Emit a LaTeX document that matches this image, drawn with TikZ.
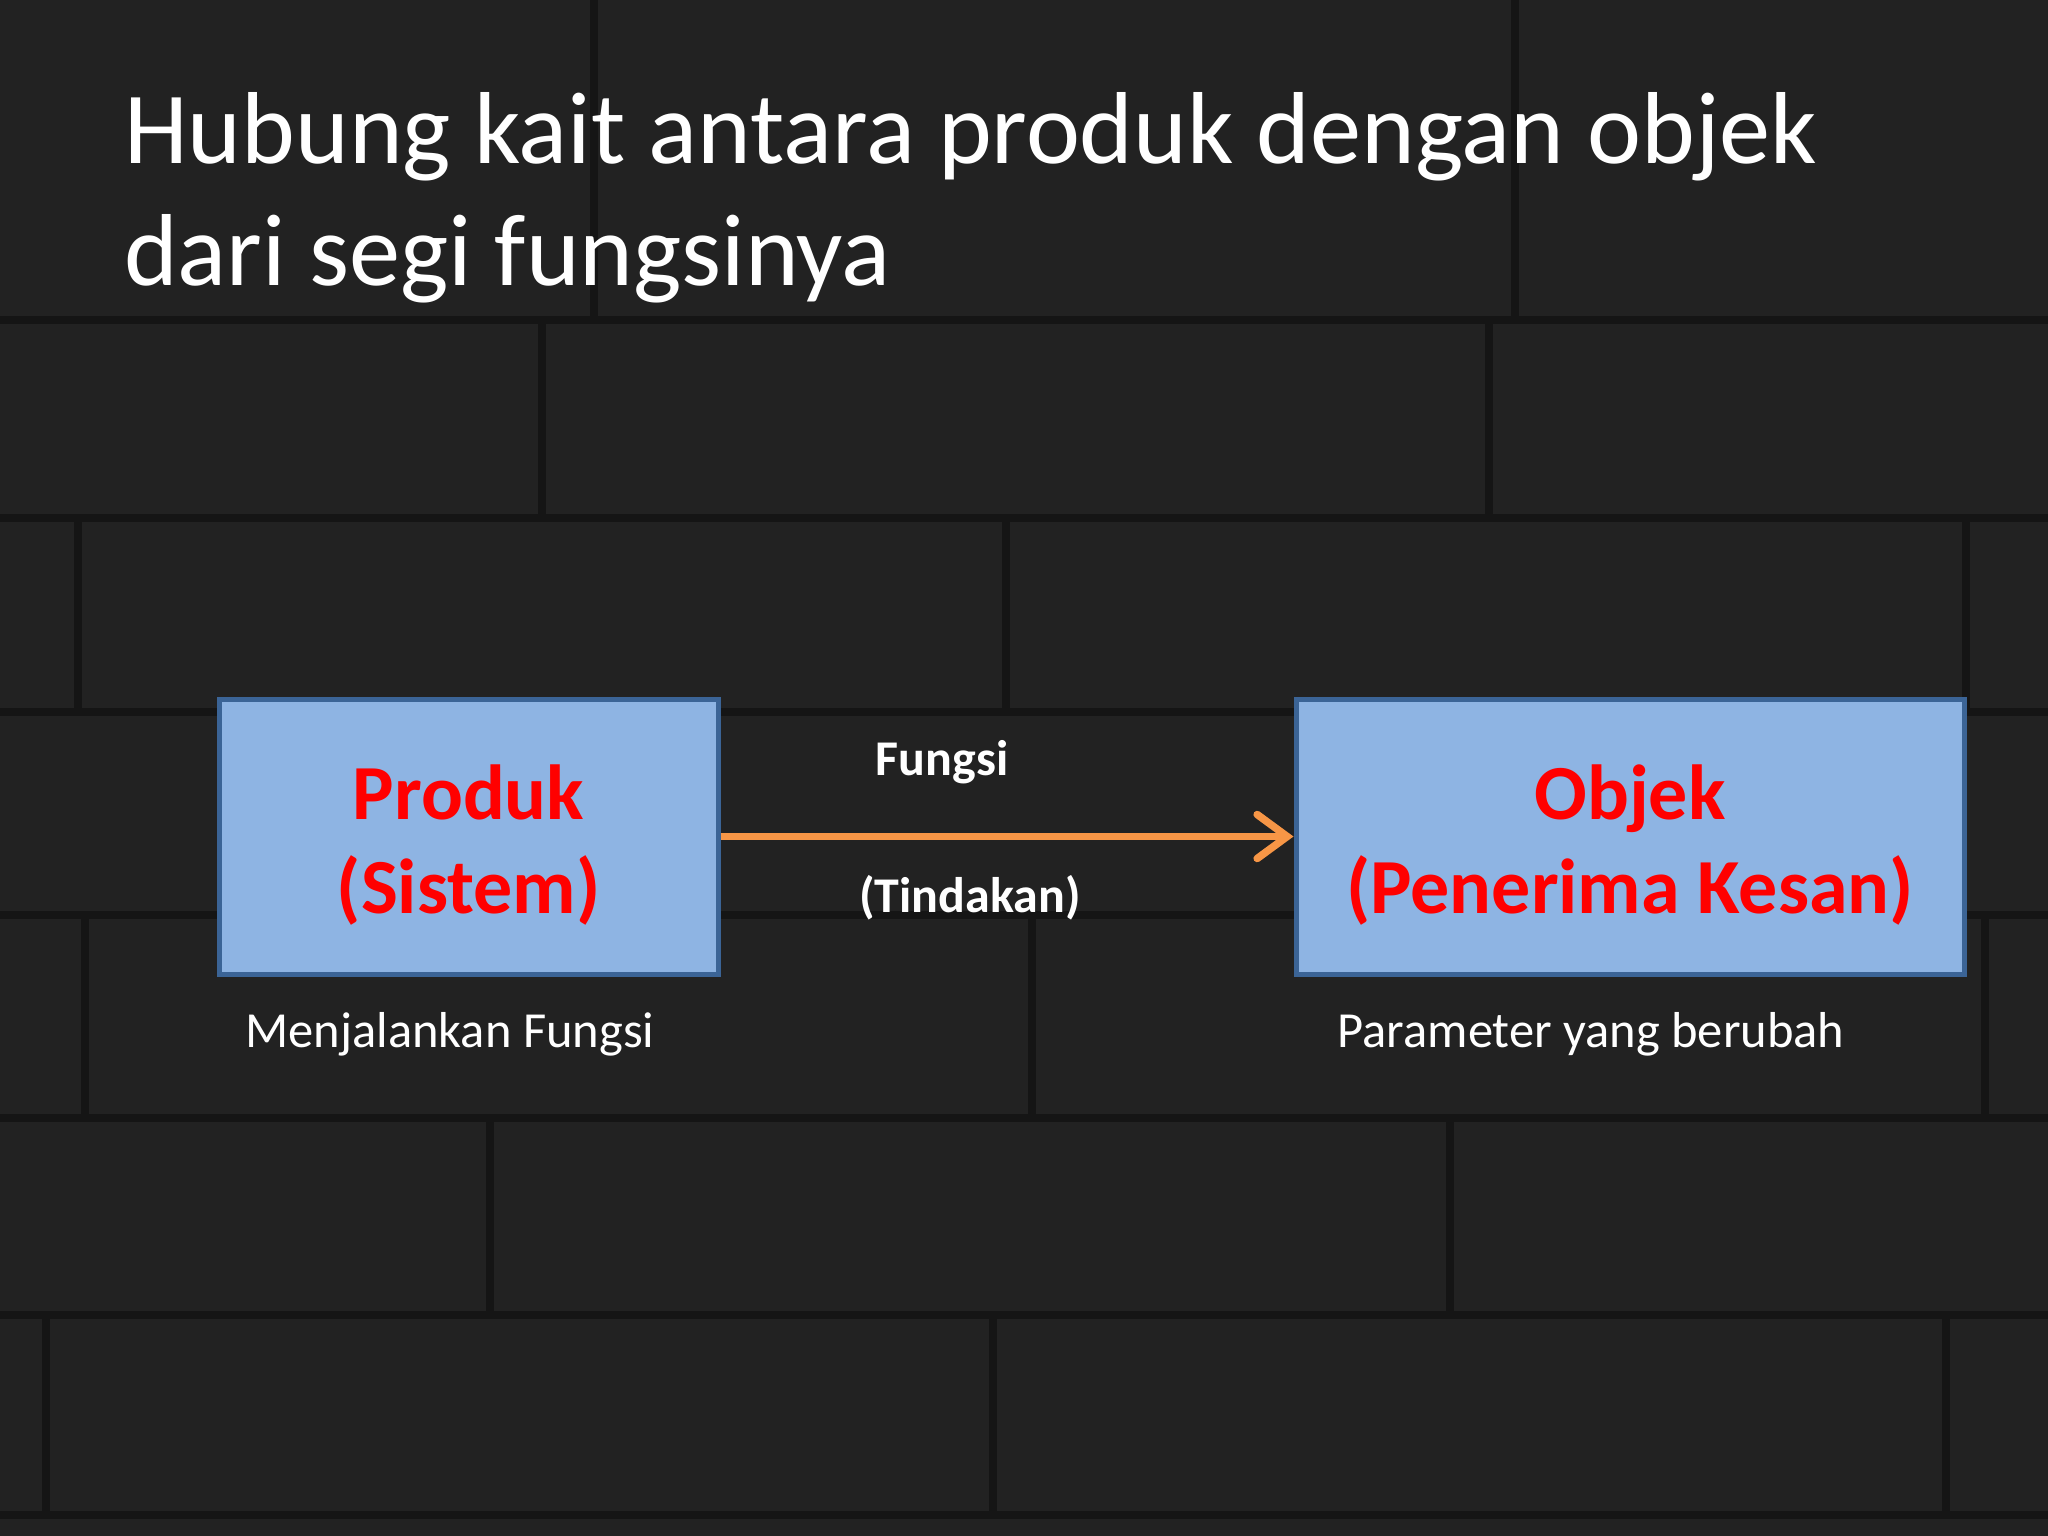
\documentclass[tikz,border=0pt]{standalone}
\usepackage{fontspec}
\setmainfont{Carlito}
\usetikzlibrary{arrows.meta}
\definecolor{bg}{HTML}{222222}
\definecolor{mortar}{HTML}{151515}
\definecolor{boxfill}{HTML}{8EB4E3}
\definecolor{boxline}{HTML}{3B6496}
\definecolor{arrowc}{HTML}{F79646}
\definecolor{redtxt}{HTML}{FF0000}
\tikzset{
  mortarline/.style={mortar, line width=8pt},
  mainbox/.style={draw=boxline, fill=boxfill, line width=5pt, minimum width=499pt, minimum height=275pt,
    inner sep=0pt, align=center, text=redtxt, font=\fontsize{78}{94}\selectfont\bfseries},
  lbl/.style={text=white, inner sep=0pt, font=\fontsize{50.5}{60}\selectfont},
  blbl/.style={lbl, font=\fontsize{50}{60}\selectfont\bfseries},
  flow/.style={arrowc, line width=7.5pt, -{Straight Barb[length=30pt,width=44pt,line width=7.5pt,line cap=round]}}
}
\begin{document}
\begin{tikzpicture}[x=1pt,y=-1pt]
\useasboundingbox (0,0) rectangle (2048,1536);
\fill[bg] (0,0) rectangle (2048,1536);
% brick mortar
\foreach \yy in {320,518,712,915,1118,1315,1515}
  \draw[mortarline] (0,\yy) -- (2048,\yy);
\foreach \xx in {594,1515} \draw[mortarline] (\xx,0) -- (\xx,320);
\foreach \xx in {542,1489} \draw[mortarline] (\xx,320) -- (\xx,518);
\foreach \xx in {78,1006,1966} \draw[mortarline] (\xx,518) -- (\xx,712);
\foreach \xx in {85,1032,1985} \draw[mortarline] (\xx,915) -- (\xx,1118);
\foreach \xx in {490,1450} \draw[mortarline] (\xx,1118) -- (\xx,1315);
\foreach \xx in {46,993,1946} \draw[mortarline] (\xx,1315) -- (\xx,1515);
% title
\node[anchor=base west, text=white, inner sep=0pt, align=left,
  font=\fontsize{102.3}{122}\selectfont] (title) at (124,285)
  {Hubung kait antara produk dengan objek\\dari segi fungsinya};
% boxes
\node[mainbox] (produk) at (468.5,836.5) {\rule{0pt}{72pt}Produk\\(Sistem)};
\node[mainbox, minimum width=668pt] (objek) at (1630,836.5) {\rule{0pt}{72pt}Objek\\(Penerima Kesan)};
% arrow
\draw[flow] (produk.east) -- (objek.west);
% labels
\node[blbl, anchor=base] (fungsi) at (942,775) {Fungsi};
\node[blbl, anchor=base] (tindakan) at (970,912) {(Tindakan)};
\node[lbl, anchor=base] (menj) at (450,1047) {Menjalankan Fungsi};
\node[lbl, anchor=base] (param) at (1591,1047) {Parameter yang berubah};
\end{tikzpicture}
\end{document}
